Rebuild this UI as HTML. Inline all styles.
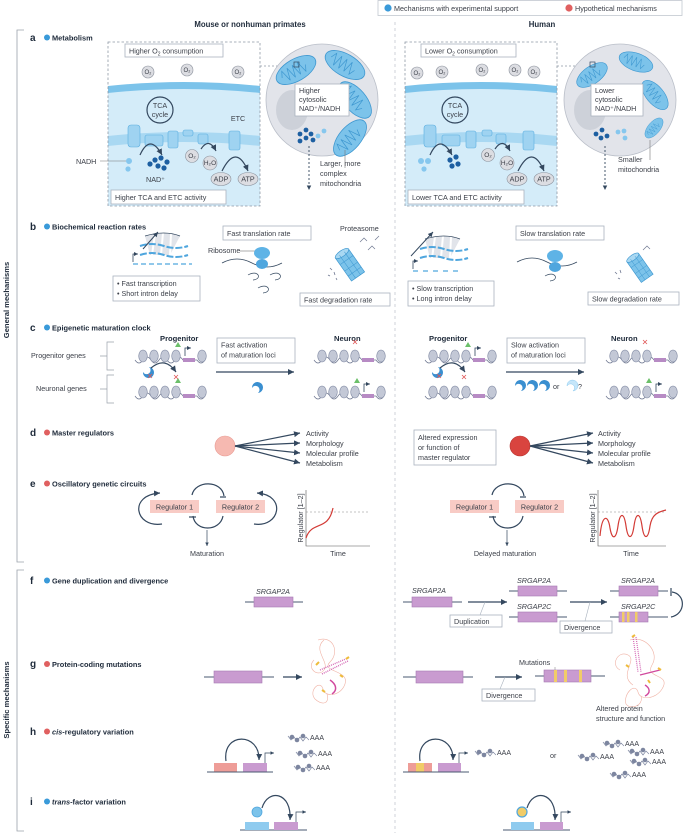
<!DOCTYPE html>
<html><head><meta charset="utf-8"><style>
html,body{margin:0;padding:0;background:#fff}
svg{display:block}
text{font-family:"Liberation Sans",sans-serif;fill:#3b3f48}
.t{font-size:7.2px}
.b{font-weight:bold;font-size:7.4px;fill:#1e2a3a}
.L{font-weight:bold;font-size:10px;fill:#1e2a3a}
.cb{fill:#fff;stroke:#aab3bf;stroke-width:0.8}
.nv{stroke:#34485f;fill:none;stroke-width:1.2}
.gene{fill:#c99bd0;stroke:#a77ab3;stroke-width:0.6}
</style></head><body>
<svg width="685" height="833" viewBox="0 0 685 833" xmlns="http://www.w3.org/2000/svg">
<defs>
<marker id="ar" markerWidth="6" markerHeight="6" refX="5" refY="3" orient="auto"><path d="M0,0.5 L5,3 L0,5.5z" fill="#34485f"/></marker>
<g id="nuc">
<path d="M-4,4 q4,6 8,0 q4,-6 8,0 q4,6 8,0 q4,-6 8,0 q4,6 8,0 q4,-6 8,0 h14 q4,6 8,0" stroke="#6e7790" fill="none" stroke-width="0.7"/>
<ellipse cx="4" cy="0" rx="4.3" ry="6" fill="#c3c8d6" stroke="#7d86a0" stroke-width="0.6"/>
<ellipse cx="15" cy="0" rx="4.3" ry="6" fill="#c3c8d6" stroke="#7d86a0" stroke-width="0.6"/>
<ellipse cx="26" cy="0" rx="4.3" ry="6" fill="#c3c8d6" stroke="#7d86a0" stroke-width="0.6"/>
<ellipse cx="37" cy="0" rx="4.3" ry="6" fill="#c3c8d6" stroke="#7d86a0" stroke-width="0.6"/>
<rect x="44" y="2" width="12" height="4" fill="#b78bc4"/>
<ellipse cx="63" cy="0" rx="4.3" ry="6" fill="#c3c8d6" stroke="#7d86a0" stroke-width="0.6"/>
</g>
<g id="mrna"><path d="M0,0 l3,4 l3,-3 l3,4 l3,-4 l3,4 l3,-4 l3,3" stroke="#7d86a0" fill="none" stroke-width="0.7"/><circle cx="4" cy="1" r="2.3" fill="#7d86a0"/><circle cx="9" cy="4" r="2.3" fill="#7d86a0"/><circle cx="15" cy="0" r="2.3" fill="#7d86a0"/><text x="22" y="4" class="t" style="font-size:7px">AAA</text></g>
<g id="mito"><ellipse rx="22" ry="11" fill="#7cc3ea" stroke="#3d97d0" stroke-width="0.8"/><path d="M-16,0 l3,-6 l3,12 l3,-12 l3,12 l3,-12 l3,12 l3,-12 l3,12 l3,-6" stroke="#3d97d0" fill="none" stroke-width="0.7"/></g>
</defs>

<!-- legend -->
<rect x="378" y="0.5" width="304" height="15" fill="#fff" stroke="#c2c8d0" stroke-width="0.8"/>
<circle cx="388" cy="8" r="3.6" fill="#3a9ad9"/><text x="394" y="11" class="t">Mechanisms with experimental support</text>
<circle cx="569" cy="8" r="3.6" fill="#e06060"/><text x="575" y="11" class="t">Hypothetical mechanisms</text>

<text x="250" y="27" class="b" text-anchor="middle" style="font-size:7.8px">Mouse or nonhuman primates</text>
<text x="542" y="27" class="b" text-anchor="middle" style="font-size:7.8px">Human</text>
<line x1="395" y1="22" x2="395" y2="833" stroke="#c4c8cf" stroke-dasharray="3,3" stroke-width="0.8"/>

<!-- brackets -->
<path d="M24,30 H17 V562 H24" fill="none" stroke="#9aa1ab" stroke-width="0.8"/>
<path d="M24,570 H17 V831 H24" fill="none" stroke="#9aa1ab" stroke-width="0.8"/>
<text transform="translate(9,300) rotate(-90)" class="b" text-anchor="middle" style="font-size:7.6px">General mechanisms</text>
<text transform="translate(9,700) rotate(-90)" class="b" text-anchor="middle" style="font-size:7.6px">Specific mechanisms</text>

<!-- section labels -->
<g>
<text x="30" y="41" class="L">a</text><circle cx="47" cy="37.5" r="3" fill="#3a9ad9"/><text x="52" y="40.5" class="b">Metabolism</text>
<text x="30" y="230" class="L">b</text><circle cx="47" cy="226.5" r="3" fill="#3a9ad9"/><text x="52" y="229.5" class="b">Biochemical reaction rates</text>
<text x="30" y="331" class="L">c</text><circle cx="47" cy="327.5" r="3" fill="#3a9ad9"/><text x="52" y="330.5" class="b">Epigenetic maturation clock</text>
<text x="30" y="436" class="L">d</text><circle cx="47" cy="432.5" r="3" fill="#e06060"/><text x="52" y="435.5" class="b">Master regulators</text>
<text x="30" y="487" class="L">e</text><circle cx="47" cy="483.5" r="3" fill="#e06060"/><text x="52" y="486.5" class="b">Oscillatory genetic circuits</text>
<text x="30" y="584" class="L">f</text><circle cx="47" cy="580.5" r="3" fill="#3a9ad9"/><text x="52" y="583.5" class="b">Gene duplication and divergence</text>
<text x="30" y="667" class="L">g</text><circle cx="47" cy="664" r="3" fill="#e06060"/><text x="52" y="667" class="b">Protein-coding mutations</text>
<text x="30" y="735" class="L">h</text><circle cx="47" cy="731.5" r="3" fill="#e06060"/><text x="52" y="734.5" class="b"><tspan font-style="italic">cis</tspan>-regulatory variation</text>
<text x="30" y="805" class="L">i</text><circle cx="47" cy="801.5" r="3" fill="#3a9ad9"/><text x="52" y="804.5" class="b"><tspan font-style="italic">trans</tspan>-factor variation</text>
</g>

<!-- ===== a left ===== -->
<g>
<path d="M108,88 Q184,80 260,88 V206 H108Z" fill="#d4ecf9"/>
<path d="M108,86 Q184,78 260,86 V93 Q184,85 108,93Z" fill="#7cc3ea"/>
<path d="M108,136 Q184,128 260,136 V146 Q184,138 108,146Z" fill="#a9d8f2"/>
<rect x="108" y="42" width="152" height="164" fill="none" stroke="#8f98a5" stroke-dasharray="2.5,2" stroke-width="0.8"/>
<rect x="125" y="44" width="98" height="13" class="cb"/><text x="129" y="53.5" class="t">Higher O<tspan font-size="5" dy="2">2</tspan><tspan dy="-2"> consumption</tspan></text>
<g fill="#dcdde2" stroke="#8c929d" stroke-width="0.6"><circle cx="148" cy="72" r="6"/><circle cx="187" cy="70" r="6"/><circle cx="238" cy="72" r="6"/></g>
<g class="t" text-anchor="middle" style="font-size:6px"><text x="148" y="74">O₂</text><text x="187" y="72">O₂</text><text x="238" y="74">O₂</text></g>
<circle cx="160" cy="110" r="13" class="nv" stroke-width="1"/><text x="160" y="108" class="t" text-anchor="middle">TCA</text><text x="160" y="117" class="t" text-anchor="middle">cycle</text>
<g fill="#9fd3f1" stroke="#5aaee0" stroke-width="0.6"><rect x="128" y="125" width="12" height="22" rx="3"/><rect x="145" y="135" width="18" height="11" rx="2"/><rect x="168" y="131" width="10" height="17" rx="2"/><rect x="183" y="130" width="10" height="6" rx="2"/><rect x="198" y="134" width="10" height="10" rx="2"/><rect x="229" y="131" width="11" height="19" rx="2"/></g>
<text x="238" y="121" class="t" text-anchor="middle">ETC</text>
<text x="76" y="164" class="t">NADH</text><line x1="100" y1="161" x2="126" y2="161" stroke="#777" stroke-width="0.6"/>
<g fill="#86c7ee"><circle cx="129" cy="161" r="3"/><circle cx="128" cy="169" r="2.6"/></g>
<path d="M140,155 q10,-22 22,0" class="nv" marker-end="url(#ar)"/>
<g fill="#1d5fa1"><circle cx="155" cy="160" r="2.6"/><circle cx="161" cy="158" r="2.6"/><circle cx="167" cy="162" r="2.6"/><circle cx="158" cy="166" r="2.6"/><circle cx="164" cy="168" r="2.6"/><circle cx="150" cy="164" r="2.6"/></g>
<text x="146" y="182" class="t">NAD⁺</text>
<path d="M201,149 q8,-12 15,2" class="nv" marker-end="url(#ar)"/>
<g fill="#dcdde2" stroke="#8c929d" stroke-width="0.6"><circle cx="192" cy="156" r="6.5"/><circle cx="210" cy="163" r="7"/><ellipse cx="221" cy="179" rx="10" ry="6.5"/><ellipse cx="248" cy="179" rx="10" ry="6.5"/></g>
<text x="192" y="158" class="t" text-anchor="middle" style="font-size:6.5px">O₂</text><text x="210" y="165" class="t" text-anchor="middle" style="font-size:6.5px">H₂O</text>
<text x="221" y="181.5" class="t" text-anchor="middle">ADP</text><text x="248" y="181.5" class="t" text-anchor="middle">ATP</text>
<path d="M222,171 q14,-28 26,0" class="nv" marker-end="url(#ar)"/>
<rect x="111" y="190" width="115" height="14" class="cb"/><text x="115" y="200" class="t">Higher TCA and ETC activity</text>
<path d="M260,66 H296" stroke="#8f98a5" stroke-dasharray="2,2" stroke-width="0.7"/>
<circle cx="322" cy="100" r="56" fill="#e2e4ea" stroke="#b9bec8" stroke-width="0.8"/>
<ellipse cx="292" cy="110" rx="16" ry="20" fill="#cdd1d9"/>
<use href="#mito" transform="translate(296,70) rotate(-30)"/>
<use href="#mito" transform="translate(345,65) rotate(30)"/>
<use href="#mito" transform="translate(355,100) rotate(50)"/>
<use href="#mito" transform="translate(350,138) rotate(-50)"/>
<rect x="294" y="62" width="5" height="5" fill="none" stroke="#34485f" stroke-width="0.7"/>
<rect x="295" y="84" width="54" height="32" class="cb"/><text x="299" y="93" class="t">Higher</text><text x="299" y="102" class="t">cytosolic</text><text x="299" y="111" class="t">NAD⁺/NADH</text>
<g fill="#1d5fa1"><circle cx="300" cy="134" r="2.4"/><circle cx="306" cy="130" r="2.4"/><circle cx="311" cy="134" r="2.4"/><circle cx="306" cy="138" r="2.4"/><circle cx="313" cy="140" r="2.4"/><circle cx="300" cy="141" r="2.4"/></g>
<g fill="#86c7ee"><circle cx="318" cy="136" r="2.4"/><circle cx="324" cy="131" r="2.4"/></g>
<line x1="309" y1="146" x2="309" y2="190" stroke="#34485f" stroke-dasharray="2,2" stroke-width="0.9" marker-end="url(#ar)"/>
<line x1="345" y1="150" x2="345" y2="168" stroke="#777" stroke-width="0.6"/>
<text x="320" y="166" class="t">Larger, more</text><text x="320" y="176" class="t">complex</text><text x="320" y="186" class="t">mitochondria</text>
</g>

<!-- ===== a right ===== -->
<g>
<path d="M405,88 Q481,80 557,88 V206 H405Z" fill="#d4ecf9"/>
<path d="M405,86 Q481,78 557,86 V93 Q481,85 405,93Z" fill="#7cc3ea"/>
<path d="M405,136 Q481,128 557,136 V146 Q481,138 405,146Z" fill="#a9d8f2"/>
<rect x="405" y="42" width="152" height="164" fill="none" stroke="#8f98a5" stroke-dasharray="2.5,2" stroke-width="0.8"/>
<rect x="421" y="44" width="95" height="13" class="cb"/><text x="425" y="53.5" class="t">Lower O<tspan font-size="5" dy="2">2</tspan><tspan dy="-2"> consumption</tspan></text>
<g fill="#dcdde2" stroke="#8c929d" stroke-width="0.6"><circle cx="417" cy="73" r="6"/><circle cx="442" cy="72" r="6"/><circle cx="482" cy="70" r="6"/><circle cx="515" cy="70" r="6"/><circle cx="534" cy="72" r="6"/></g>
<g class="t" text-anchor="middle" style="font-size:6px"><text x="417" y="75">O₂</text><text x="442" y="74">O₂</text><text x="482" y="72">O₂</text><text x="515" y="72">O₂</text><text x="534" y="74">O₂</text></g>
<circle cx="455" cy="110" r="13" class="nv" stroke-width="1"/><text x="455" y="108" class="t" text-anchor="middle">TCA</text><text x="455" y="117" class="t" text-anchor="middle">cycle</text>
<g fill="#9fd3f1" stroke="#5aaee0" stroke-width="0.6"><rect x="424" y="125" width="12" height="22" rx="3"/><rect x="442" y="135" width="18" height="11" rx="2"/><rect x="466" y="131" width="10" height="17" rx="2"/><rect x="482" y="130" width="10" height="6" rx="2"/><rect x="496" y="134" width="10" height="10" rx="2"/><rect x="523" y="131" width="11" height="19" rx="2"/></g>
<g fill="#86c7ee"><circle cx="421" cy="161" r="3"/><circle cx="428" cy="161" r="3"/><circle cx="424" cy="169" r="2.6"/></g>
<path d="M430,155 q10,-22 22,0" class="nv" marker-end="url(#ar)"/>
<g fill="#1d5fa1"><circle cx="450" cy="160" r="2.6"/><circle cx="456" cy="157" r="2.6"/><circle cx="452" cy="166" r="2.6"/><circle cx="458" cy="164" r="2.6"/></g>
<path d="M495,149 q8,-12 15,2" class="nv" marker-end="url(#ar)"/>
<g fill="#dcdde2" stroke="#8c929d" stroke-width="0.6"><circle cx="488" cy="155" r="6.5"/><circle cx="507" cy="163" r="7"/><ellipse cx="517" cy="179" rx="10" ry="6.5"/><ellipse cx="544" cy="179" rx="10" ry="6.5"/></g>
<text x="488" y="157" class="t" text-anchor="middle" style="font-size:6.5px">O₂</text><text x="507" y="165" class="t" text-anchor="middle" style="font-size:6.5px">H₂O</text>
<text x="517" y="181.5" class="t" text-anchor="middle">ADP</text><text x="544" y="181.5" class="t" text-anchor="middle">ATP</text>
<path d="M518,171 q14,-28 26,0" class="nv" marker-end="url(#ar)"/>
<rect x="408" y="190" width="116" height="14" class="cb"/><text x="412" y="200" class="t">Lower TCA and ETC activity</text>
<path d="M557,66 H592" stroke="#8f98a5" stroke-dasharray="2,2" stroke-width="0.7"/>
<circle cx="620" cy="100" r="56" fill="#e2e4ea" stroke="#b9bec8" stroke-width="0.8"/>
<ellipse cx="590" cy="110" rx="16" ry="20" fill="#cdd1d9"/>
<use href="#mito" transform="translate(592,75) rotate(-35) scale(0.8)"/>
<use href="#mito" transform="translate(636,62) rotate(20) scale(0.8)"/>
<use href="#mito" transform="translate(655,95) rotate(50) scale(0.8)"/>
<use href="#mito" transform="translate(654,128) rotate(-50) scale(0.55)"/>
<rect x="590" y="62" width="5" height="5" fill="none" stroke="#34485f" stroke-width="0.7"/>
<rect x="591" y="84" width="52" height="32" class="cb"/><text x="595" y="93" class="t">Lower</text><text x="595" y="102" class="t">cytosolic</text><text x="595" y="111" class="t">NAD⁺/NADH</text>
<g fill="#1d5fa1"><circle cx="596" cy="134" r="2.4"/><circle cx="602" cy="130" r="2.4"/><circle cx="601" cy="138" r="2.4"/><circle cx="607" cy="136" r="2.4"/></g>
<g fill="#86c7ee"><circle cx="618" cy="132" r="2.4"/><circle cx="624" cy="131" r="2.4"/><circle cx="625" cy="138" r="2.4"/></g>
<line x1="605" y1="146" x2="605" y2="190" stroke="#34485f" stroke-dasharray="2,2" stroke-width="0.9" marker-end="url(#ar)"/>
<line x1="650" y1="140" x2="650" y2="160" stroke="#777" stroke-width="0.6"/>
<text x="618" y="162" class="t">Smaller</text><text x="618" y="172" class="t">mitochondria</text>
</g>

<!-- ===== b ===== -->
<g>
<g id="fanL">
<path d="M145,236 Q165,230 180,236 L170,255 L150,255Z" fill="#e1e4ea"/>
<g stroke="#fff" stroke-width="2"><line x1="155" y1="234" x2="152" y2="255"/><line x1="163" y1="233" x2="161" y2="255"/><line x1="171" y1="234" x2="170" y2="255"/></g>
<path d="M145,236 Q165,230 180,236" stroke="#34485f" fill="none" stroke-width="0.8"/>
<path d="M140,246 q12,-4 24,0 t24,0" stroke="#4fa6de" fill="none" stroke-width="2" stroke-dasharray="7,2"/>
<path d="M140,255 q12,-4 24,0 t24,0" stroke="#4fa6de" fill="none" stroke-width="2" stroke-dasharray="7,2"/>
<line x1="133" y1="264" x2="192" y2="264" stroke="#4fa6de" stroke-width="1.2" stroke-dasharray="5,3"/>
<path d="M133,262 V254 H138" stroke="#34485f" fill="none" stroke-width="0.8" marker-end="url(#ar)"/>
<line x1="143" y1="249" x2="158" y2="232" stroke="#34485f" stroke-width="1" marker-end="url(#ar)"/>
</g>
<rect x="113" y="276" width="87" height="25" class="cb"/><text x="117" y="286" class="t">• Fast transcription</text><text x="117" y="296" class="t">• Short intron delay</text>
<rect x="223" y="226" width="88" height="14" class="cb"/><text x="227" y="236" class="t">Fast translation rate</text>
<text x="208" y="253" class="t">Ribosome</text><line x1="240" y1="251" x2="255" y2="251" stroke="#777" stroke-width="0.6"/>
<path d="M222,263 q15,-8 30,0 t30,0" stroke="#34485f" fill="none" stroke-width="0.8"/>
<ellipse cx="262" cy="253" rx="8" ry="6" fill="#5eb3e6"/><ellipse cx="262" cy="264" rx="6" ry="5" fill="#4fa6de"/>
<path d="M248,275 c10,-6 15,4 5,5 M270,275 c10,-6 15,4 5,5 M258,288 c10,-6 15,4 5,5" stroke="#34485f" fill="none" stroke-width="0.7"/>
<text x="340" y="231" class="t">Proteasome</text>
<g transform="translate(350,265) rotate(-35)"><rect x="-8" y="-14" width="16" height="28" fill="#7cc3ea" stroke="#3d97d0" stroke-width="0.7"/><ellipse cx="0" cy="-14" rx="8" ry="3" fill="#a9d8f2" stroke="#3d97d0" stroke-width="0.7"/><path d="M-8,-6 H8 M-8,2 H8 M-8,8 H8 M-3,-14 V14 M3,-14 V14" stroke="#3d97d0" stroke-width="0.5"/></g>
<path d="M360,242 l4,-4 l3,3 M368,250 l4,-4 l3,3 M375,240 l4,-4" stroke="#6e7790" fill="none" stroke-width="0.7"/>
<path d="M330,268 l2,2 M334,272 l1,3 M328,275 l2,1 M336,278 l1,2" stroke="#6e7790" stroke-width="0.8"/>
<rect x="300" y="293" width="90" height="13" class="cb"/><text x="304" y="302.5" class="t">Fast degradation rate</text>

<g transform="translate(280,3)"><path d="M145,236 Q165,230 180,236 L170,255 L150,255Z" fill="#e1e4ea"/>
<g stroke="#fff" stroke-width="2"><line x1="155" y1="234" x2="152" y2="255"/><line x1="163" y1="233" x2="161" y2="255"/><line x1="171" y1="234" x2="170" y2="255"/></g>
<path d="M145,236 Q165,230 180,236" stroke="#34485f" fill="none" stroke-width="0.8"/>
<path d="M140,246 q12,-4 24,0 t24,0" stroke="#4fa6de" fill="none" stroke-width="2" stroke-dasharray="7,2"/>
<path d="M140,255 q12,-4 24,0 t24,0" stroke="#4fa6de" fill="none" stroke-width="2" stroke-dasharray="7,2"/>
<line x1="133" y1="268" x2="182" y2="268" stroke="#4fa6de" stroke-width="1.2" stroke-dasharray="5,5"/>
<path d="M133,266 V258 H138" stroke="#34485f" fill="none" stroke-width="0.8" marker-end="url(#ar)"/>
<line x1="131" y1="253" x2="153" y2="229" stroke="#34485f" stroke-width="1" marker-end="url(#ar)"/></g>
<rect x="408" y="281" width="86" height="25" class="cb"/><text x="412" y="291" class="t">• Slow transcription</text><text x="412" y="301" class="t">• Long intron delay</text>
<rect x="516" y="226" width="88" height="14" class="cb"/><text x="520" y="236" class="t">Slow translation rate</text>
<path d="M517,262 q15,-8 30,0 t30,0" stroke="#34485f" fill="none" stroke-width="0.8"/>
<ellipse cx="555" cy="256" rx="8" ry="6" fill="#5eb3e6"/><ellipse cx="555" cy="267" rx="6" ry="5" fill="#4fa6de"/>
<path d="M545,276 c10,-6 15,4 5,5" stroke="#34485f" fill="none" stroke-width="0.7"/>
<g transform="translate(640,268) rotate(-35) scale(0.9)"><rect x="-8" y="-14" width="16" height="28" fill="#7cc3ea" stroke="#3d97d0" stroke-width="0.7"/><ellipse cx="0" cy="-14" rx="8" ry="3" fill="#a9d8f2" stroke="#3d97d0" stroke-width="0.7"/><path d="M-8,-6 H8 M-8,2 H8 M-8,8 H8 M-3,-14 V14 M3,-14 V14" stroke="#3d97d0" stroke-width="0.5"/></g>
<path d="M643,250 l4,-4 l3,3" stroke="#6e7790" fill="none" stroke-width="0.7"/>
<path d="M615,272 l2,2 M620,270 l1,3 M618,278 l2,1" stroke="#6e7790" stroke-width="0.8"/>
<rect x="588" y="292" width="91" height="13" class="cb"/><text x="592" y="301.5" class="t">Slow degradation rate</text>
</g>

<!-- ===== c ===== -->
<g>
<text x="160" y="341" class="b" style="font-size:7.6px">Progenitor</text>
<text x="334" y="341" class="b" style="font-size:7.6px">Neuron</text>
<text x="31" y="358" class="t">Progenitor genes</text><text x="36" y="391" class="t">Neuronal genes</text>
<path d="M100,356 H107 M114,342 H107 V370 H114 M100,389 H107 M114,375 H107 V403 H114" stroke="#9aa1ab" fill="none" stroke-width="0.7"/>
<use href="#nuc" x="139" y="356"/><use href="#nuc" x="139" y="392"/>
<use href="#nuc" x="318" y="356"/><use href="#nuc" x="318" y="392"/>
<use href="#nuc" x="429" y="356"/><use href="#nuc" x="429" y="392"/>
<use href="#nuc" x="610" y="356"/><use href="#nuc" x="610" y="392"/>
<g fill="#6cc06a"><path d="M175,347 l3,-5 l3,5z"/><path d="M175,383 l3,-5 l3,5z"/><path d="M354,383 l3,-5 l3,5z"/><path d="M465,347 l3,-5 l3,5z"/><path d="M646,383 l3,-5 l3,5z"/></g>
<g stroke="#34485f" fill="none" stroke-width="0.8"><path d="M185,356 V348 H191" marker-end="url(#ar)"/><path d="M364,392 V384 H370" marker-end="url(#ar)"/><path d="M475,356 V348 H481" marker-end="url(#ar)"/><path d="M656,392 V384 H662" marker-end="url(#ar)"/></g>
<g stroke="#e05555" stroke-width="0.8"><path d="M174,375 l4,4 m0,-4 l-4,4 M353,340 l4,4 m0,-4 l-4,4 M462,375 l4,4 m0,-4 l-4,4 M643,340 l4,4 m0,-4 l-4,4"/></g>
<path d="M143,372 a5.5,5.5 0 1 0 6,-5 a4,4 0 1 1 -6,5z" fill="#3a8fd0"/><path d="M148,374 l4,4 m0,-4 l-4,4" stroke="#e05555" stroke-width="0.8"/>
<path d="M151,368 q14,-12 25,4" class="nv" stroke-width="1" marker-end="url(#ar)"/>
<path d="M432,372 a5.5,5.5 0 1 0 6,-5 a4,4 0 1 1 -6,5z" fill="#3a8fd0"/><path d="M437,374 l4,4 m0,-4 l-4,4" stroke="#e05555" stroke-width="0.8"/>
<path d="M440,368 q14,-12 25,4" class="nv" stroke-width="1" marker-end="url(#ar)"/>
<rect x="217" y="338" width="78" height="25" class="cb"/><text x="221" y="347.5" class="t">Fast activation</text><text x="221" y="357.5" class="t">of maturation loci</text>
<line x1="216" y1="372" x2="294" y2="372" class="nv" marker-end="url(#ar)"/>
<path d="M252,388 a5.5,5.5 0 1 1 6,5 a4,4 0 1 0 -6,-5z" fill="#3a8fd0"/>
<rect x="507" y="338" width="78" height="25" class="cb"/><text x="511" y="347.5" class="t">Slow activation</text><text x="511" y="357.5" class="t">of maturation loci</text>
<line x1="506" y1="372" x2="584" y2="372" class="nv" marker-end="url(#ar)"/>
<g fill="#3a8fd0"><path d="M515,386 a5.5,5.5 0 1 1 6,5 a4,4 0 1 0 -6,-5z"/><path d="M527,386 a5.5,5.5 0 1 1 6,5 a4,4 0 1 0 -6,-5z"/><path d="M539,386 a5.5,5.5 0 1 1 6,5 a4,4 0 1 0 -6,-5z"/></g>
<text x="553" y="389" class="t">or</text>
<path d="M567,386 a5.5,5.5 0 1 1 6,5 a4,4 0 1 0 -6,-5z" fill="#c5e6fa" stroke="#8ecbf0" stroke-width="0.5"/><text x="578" y="389" class="t">?</text>
<text x="429" y="341" class="b" style="font-size:7.6px">Progenitor</text>
<text x="611" y="341" class="b" style="font-size:7.6px">Neuron</text>
</g>

<!-- ===== d ===== -->
<g>
<circle cx="225" cy="446" r="10" fill="#f6b9b1" stroke="#e89a92" stroke-width="0.6"/>
<g class="nv" stroke-width="0.8"><line x1="235" y1="446" x2="300" y2="433" marker-end="url(#ar)"/><line x1="235" y1="446" x2="300" y2="443" marker-end="url(#ar)"/><line x1="235" y1="446" x2="300" y2="453" marker-end="url(#ar)"/><line x1="235" y1="446" x2="300" y2="463" marker-end="url(#ar)"/></g>
<text x="306" y="436" class="t">Activity</text><text x="306" y="446" class="t">Morphology</text><text x="306" y="456" class="t">Molecular profile</text><text x="306" y="466" class="t">Metabolism</text>
<circle cx="520" cy="446" r="10" fill="#d9443f" stroke="#b8322e" stroke-width="0.6"/>
<g class="nv" stroke-width="0.8"><line x1="530" y1="446" x2="593" y2="433" marker-end="url(#ar)"/><line x1="530" y1="446" x2="593" y2="443" marker-end="url(#ar)"/><line x1="530" y1="446" x2="593" y2="453" marker-end="url(#ar)"/><line x1="530" y1="446" x2="593" y2="463" marker-end="url(#ar)"/></g>
<text x="598" y="436" class="t">Activity</text><text x="598" y="446" class="t">Morphology</text><text x="598" y="456" class="t">Molecular profile</text><text x="598" y="466" class="t">Metabolism</text>
<rect x="414" y="430" width="82" height="35" class="cb"/><text x="418" y="440" class="t">Altered expression</text><text x="418" y="450" class="t">or function of</text><text x="418" y="460" class="t">master regulator</text>
</g>

<!-- ===== e ===== -->
<g>
<rect x="150" y="500" width="49" height="13" fill="#f8cbc5"/><text x="174.5" y="509.5" class="t" text-anchor="middle">Regulator 1</text>
<rect x="216" y="500" width="49" height="13" fill="#f8cbc5"/><text x="240.5" y="509.5" class="t" text-anchor="middle">Regulator 2</text>
<g class="nv" stroke-width="1"><path d="M162,524 C135,528 128,495 160,493" marker-end="url(#ar)"/><path d="M192,495 C195,480 222,480 224,496"/><path d="M220,497 l6,0" /><path d="M223,516 C220,532 195,532 193,516"/><path d="M189,517 l7,0"/><path d="M254,524 C280,528 287,495 257,493" marker-end="url(#ar)"/><line x1="207" y1="530" x2="207" y2="546" stroke-width="0.7" marker-end="url(#ar)"/></g>
<text x="207" y="556" class="t" text-anchor="middle">Maturation</text>
<path d="M306,490 V546 H370" stroke="#555" fill="none" stroke-width="0.6"/>
<line x1="306" y1="512" x2="370" y2="512" stroke="#888" stroke-dasharray="2,2" stroke-width="0.6"/>
<path d="M306,538 C312,520 328,532 333,508" stroke="#d33b36" fill="none" stroke-width="1.2"/>
<text x="338" y="556" class="t" text-anchor="middle">Time</text>
<text transform="translate(303,518) rotate(-90)" class="t" text-anchor="middle">Regulator [1–2]</text>

<rect x="450" y="500" width="49" height="13" fill="#f8cbc5"/><text x="474.5" y="509.5" class="t" text-anchor="middle">Regulator 1</text>
<rect x="515" y="500" width="49" height="13" fill="#f8cbc5"/><text x="539.5" y="509.5" class="t" text-anchor="middle">Regulator 2</text>
<g class="nv" stroke-width="1"><path d="M492,495 C495,480 522,480 524,496"/><path d="M520,497 l6,0"/><path d="M523,516 C520,532 495,532 493,516"/><path d="M489,517 l7,0"/><line x1="507" y1="530" x2="507" y2="546" stroke-width="0.7" marker-end="url(#ar)"/></g>
<text x="505" y="556" class="t" text-anchor="middle">Delayed maturation</text>
<path d="M598,490 V546 H666" stroke="#555" fill="none" stroke-width="0.6"/>
<line x1="598" y1="512" x2="666" y2="512" stroke="#888" stroke-dasharray="2,2" stroke-width="0.6"/>
<path d="M600,536 C602,514 608,514 610,528 C612,540 616,540 618,526 C620,512 624,512 626,526 C628,540 632,540 634,526 C636,512 640,512 642,526 C644,540 648,540 650,526 C652,514 658,512 666,510" stroke="#d33b36" fill="none" stroke-width="1.2"/>
<text x="631" y="556" class="t" text-anchor="middle">Time</text>
<text transform="translate(595,518) rotate(-90)" class="t" text-anchor="middle">Regulator [1–2]</text>
</g>

<!-- ===== f ===== -->
<g>
<text x="256" y="594" class="t" font-style="italic">SRGAP2A</text>
<line x1="245" y1="602" x2="303" y2="602" stroke="#4a5a70"/><rect x="254" y="597" width="39" height="10" class="gene"/>
<text x="412" y="593" class="t" font-style="italic">SRGAP2A</text>
<line x1="403" y1="602" x2="462" y2="602" stroke="#4a5a70"/><rect x="412" y="597" width="40" height="10" class="gene"/>
<line x1="468" y1="602" x2="507" y2="602" class="nv" marker-end="url(#ar)"/>
<path d="M485,602 L480,615" stroke="#aab3bf" stroke-width="0.6"/>
<rect x="450" y="615" width="52" height="12" class="cb"/><text x="454" y="624" class="t">Duplication</text>
<text x="517" y="583" class="t" font-style="italic">SRGAP2A</text>
<line x1="509" y1="591" x2="567" y2="591" stroke="#4a5a70"/><rect x="518" y="586" width="39" height="10" class="gene"/>
<text x="517" y="609" class="t" font-style="italic">SRGAP2C</text>
<line x1="509" y1="617" x2="567" y2="617" stroke="#4a5a70"/><rect x="518" y="612" width="39" height="10" class="gene"/>
<line x1="570" y1="602" x2="607" y2="602" class="nv" marker-end="url(#ar)"/>
<path d="M590,602 L585,621" stroke="#aab3bf" stroke-width="0.6"/>
<rect x="560" y="621" width="52" height="12" class="cb"/><text x="564" y="630" class="t">Divergence</text>
<text x="621" y="583" class="t" font-style="italic">SRGAP2A</text>
<line x1="610" y1="591" x2="668" y2="591" stroke="#4a5a70"/><rect x="619" y="586" width="39" height="10" class="gene"/>
<text x="621" y="609" class="t" font-style="italic">SRGAP2C</text>
<line x1="610" y1="617" x2="668" y2="617" stroke="#4a5a70"/><rect x="619" y="612" width="29" height="10" class="gene"/>
<g fill="#f1cc68"><rect x="622" y="612" width="2.5" height="10"/><rect x="627" y="612" width="2.5" height="10"/><rect x="635" y="612" width="2.5" height="10"/></g>
<path d="M671,617 C686,614 686,594 672,592" class="nv" stroke-width="1"/><line x1="671" y1="588" x2="671" y2="596" class="nv"/>
</g>

<!-- ===== g ===== -->
<g>
<line x1="204" y1="677" x2="274" y2="677" stroke="#4a5a70"/><rect x="214" y="671" width="48" height="12" class="gene"/>
<line x1="283" y1="677" x2="302" y2="677" class="nv" marker-end="url(#ar)"/>
<g fill="none" stroke-width="0.6">
<path d="M318,640 c15,-5 22,12 12,22 c-10,10 20,8 15,22 c-4,12 -20,14 -22,5 c-3,-10 -15,2 -8,10 c6,6 15,6 12,-5 M314,660 c-8,8 4,18 10,10 c6,-8 -12,-20 0,-30" stroke="#f0b3a6"/>
<path d="M320,670 l28,-12 M322,674 l26,-13" stroke="#d469b5" stroke-width="1.4" stroke-dasharray="1,1"/>
<path d="M330,680 c6,4 8,10 2,14" stroke="#d14a9e" stroke-width="1.5"/>
<path d="M316,665 l3,-3 M340,675 l3,2 M322,690 l3,2 M346,659 l3,-2" stroke="#eebc3c" stroke-width="2"/>
</g>
<line x1="403" y1="677" x2="473" y2="677" stroke="#4a5a70"/><rect x="416" y="671" width="47" height="12" class="gene"/>
<line x1="495" y1="677" x2="522" y2="677" class="nv" marker-end="url(#ar)"/>
<path d="M505,677 L500,689" stroke="#aab3bf" stroke-width="0.6"/>
<rect x="482" y="689" width="53" height="12" class="cb"/><text x="486" y="698" class="t">Divergence</text>
<text x="519" y="665" class="t">Mutations</text><line x1="555" y1="667" x2="555" y2="671" stroke="#777" stroke-width="0.5"/>
<line x1="535" y1="676" x2="605" y2="676" stroke="#4a5a70"/><rect x="544" y="670" width="47" height="12" class="gene"/>
<g fill="#f1cc68"><rect x="554" y="670" width="3" height="12"/><rect x="564" y="670" width="3" height="12"/><rect x="579" y="670" width="3" height="12"/></g>
<g fill="none" stroke-width="0.6">
<path d="M630,640 c15,-5 30,12 22,25 c-8,14 20,8 10,24 c-6,10 -22,12 -24,3 c-3,-10 -15,2 -12,12 c4,6 18,2 15,-8 M620,670 c-10,-5 -2,-20 8,-15 c10,5 -10,20 5,30" stroke="#f0b3a6"/>
<path d="M633,637 l5,35 M636,637 l5,35" stroke="#d469b5" stroke-width="1.2" stroke-dasharray="1,1"/>
<path d="M640,675 l20,-5 M645,685 c5,3 6,8 0,11" stroke="#d14a9e" stroke-width="1.4"/>
<path d="M632,637 l3,-2 M626,665 l3,2 M658,668 l3,2 M648,680 l2,3" stroke="#eebc3c" stroke-width="2"/>
</g>
<text x="596" y="711" class="t">Altered protein</text><text x="596" y="721" class="t">structure and function</text>
</g>

<!-- ===== h ===== -->
<g>
<line x1="207" y1="772" x2="273" y2="772" stroke="#4a5a70"/>
<rect x="214" y="763" width="23" height="8.5" fill="#ee9d98"/><rect x="243" y="763" width="24" height="8.5" fill="#c99bd0"/>
<path d="M226,761 C222,732 260,732 259,760" class="nv" stroke-width="1.1" marker-end="url(#ar)"/>
<path d="M265,763 V753 H274" stroke="#34485f" fill="none" stroke-width="0.7" marker-end="url(#ar)"/>
<use href="#mrna" x="288" y="736"/><use href="#mrna" x="296" y="752"/><use href="#mrna" x="294" y="766"/>
<line x1="403" y1="772" x2="469" y2="772" stroke="#4a5a70"/>
<rect x="408" y="763" width="24" height="8.5" fill="#ee9d98"/><rect x="416" y="763" width="8" height="8.5" fill="#f1cc68"/><rect x="438" y="763" width="23" height="8.5" fill="#c99bd0"/>
<path d="M420,761 C416,732 454,732 453,760" class="nv" stroke-width="1.1" marker-end="url(#ar)"/>
<path d="M459,763 V753 H468" stroke="#34485f" fill="none" stroke-width="0.7" marker-end="url(#ar)"/>
<use href="#mrna" x="475" y="751"/>
<text x="550" y="758" class="t">or</text>
<use href="#mrna" x="603" y="742"/><use href="#mrna" x="578" y="755"/><use href="#mrna" x="628" y="750"/><use href="#mrna" x="630" y="760"/><use href="#mrna" x="610" y="773"/>
</g>

<!-- ===== i ===== -->
<g>
<line x1="240" y1="830" x2="307" y2="830" stroke="#4a5a70"/>
<rect x="245" y="822" width="24" height="8" fill="#8fcbef"/><rect x="274" y="822" width="24" height="8" fill="#c99bd0"/>
<circle cx="257" cy="812" r="5" fill="#7cc3ea" stroke="#4fa6de" stroke-width="0.8"/>
<path d="M262,808 C268,788 292,792 290,820" class="nv" stroke-width="1.1" marker-end="url(#ar)"/>
<path d="M296,822 V812 H306" stroke="#34485f" fill="none" stroke-width="0.7" marker-end="url(#ar)"/>
<line x1="503" y1="830" x2="570" y2="830" stroke="#4a5a70"/>
<rect x="511" y="822" width="23" height="8" fill="#8fcbef"/><rect x="540" y="822" width="23" height="8" fill="#c99bd0"/>
<circle cx="522" cy="812" r="5" fill="#f1cc68" stroke="#4fa6de" stroke-width="1.2"/>
<path d="M527,808 C533,788 557,792 555,820" class="nv" stroke-width="1.1" marker-end="url(#ar)"/>
<path d="M561,822 V812 H571" stroke="#34485f" fill="none" stroke-width="0.7" marker-end="url(#ar)"/>
</g>
</svg>
</body></html>
